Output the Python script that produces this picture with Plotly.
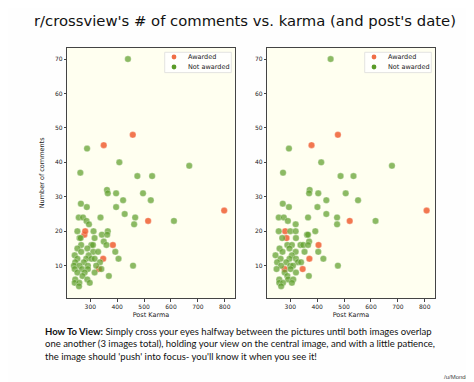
import plotly.graph_objects as go

# ---- data (karma, comments) ----
left_awarded_karma = [458, 350, 515, 798, 384, 278, 281, 332, 348]
left_awarded_comments = [48, 45, 23, 26, 16, 19, 20, 9, 12]

left_not_karma = [440, 288, 408, 668, 263, 475, 530, 362, 365, 396, 496, 422, 525, 265, 287, 396,
                  428, 257, 273, 338, 467, 286, 611, 295, 463, 252, 312, 365, 343, 363, 260, 264,
                  316, 350, 266, 304, 310, 360, 252, 289, 266, 311, 329, 393, 242, 294, 252, 285,
                  304, 316, 405, 244, 276, 336, 239, 260, 291, 322, 459, 242, 269, 291, 341, 252,
                  279, 316, 271, 369, 244, 289, 242, 259, 298, 258]
left_not_comments = [70, 44, 40, 39, 37, 36, 36, 32, 31, 31, 31, 29, 29, 28, 27, 27,
                     25, 24, 24, 24, 24, 23, 23, 22, 22, 20, 20, 20, 19, 19, 18, 18,
                     18, 17, 16, 16, 16, 16, 15, 15, 14, 14, 14, 14, 13, 13, 12, 12,
                     12, 12, 12, 11, 11, 11, 10, 10, 10, 10, 10, 9, 9, 9, 9, 8,
                     8, 8, 7, 7, 6, 6, 5, 5, 5, 4]

right_awarded_karma = [477, 379, 521, 807, 405, 371, 281, 286, 279, 346]
right_awarded_comments = [48, 45, 23, 26, 16, 12, 20, 18, 9, 9]

right_not_karma = [450, 295, 415, 678, 273, 487, 535, 372, 370, 404, 506, 434, 552, 272, 295, 401,
                   434, 257, 276, 366, 474, 291, 617, 320, 474, 257, 300, 320, 393, 362, 366, 270,
                   321, 370, 289, 306, 338, 348, 366, 260, 297, 271, 320, 353, 404, 245, 306, 264,
                   297, 321, 423, 251, 285, 328, 340, 266, 300, 310, 477, 249, 301, 279, 321, 289,
                   369, 259, 292, 311, 259, 273, 306, 266]
right_not_comments = [70, 44, 40, 39, 37, 36, 36, 32, 31, 31, 31, 29, 29, 28, 27, 27,
                      25, 24, 24, 24, 24, 23, 23, 22, 22, 20, 20, 20, 20, 19, 19, 18,
                      18, 17, 16, 16, 16, 16, 16, 15, 15, 14, 14, 14, 14, 13, 13, 12,
                      12, 12, 12, 11, 11, 11, 11, 10, 10, 10, 10, 9, 9, 8, 8, 7,
                      7, 6, 6, 6, 5, 5, 5, 4]

x_ticks = [300, 400, 500, 600, 700, 800]
y_ticks = [10, 20, 30, 40, 50, 60, 70]
legend_labels = ["Awarded", "Not awarded"]

title_text = "r/crossview's # of comments vs. karma (and post's date)"
howto_text = ("<b>How To View:</b> Simply cross your eyes halfway between the pictures until both images overlap<br>"
              "one another (3 images total), holding your view on the central image, and with a little patience,<br>"
              "the image should 'push' into focus- you'll know it when you see it!")
signature = "/u/Mondoke"

RED = "rgba(240,95,50,0.85)"
GREEN = "rgba(95,160,45,0.72)"
LEG_COLORS = ["rgb(240,110,70)", "rgb(90,155,40)"]
W, H = 474, 382

fig = go.Figure()

def add_panel(ak, ac, nk, nc, xa, ya):
    fig.add_trace(go.Scatter(x=ak, y=ac, mode="markers", name=legend_labels[0],
                             marker=dict(color=RED, size=6.5, line=dict(color="rgba(255,255,255,0.6)", width=0.5)),
                             xaxis=xa, yaxis=ya, showlegend=False))
    fig.add_trace(go.Scatter(x=nk, y=nc, mode="markers", name=legend_labels[1],
                             marker=dict(color=GREEN, size=6.5, line=dict(color="rgba(255,255,255,0.6)", width=0.5)),
                             xaxis=xa, yaxis=ya, showlegend=False))

add_panel(left_awarded_karma, left_awarded_comments, left_not_karma, left_not_comments, "x", "y")
add_panel(right_awarded_karma, right_awarded_comments, right_not_karma, right_not_comments, "x2", "y2")

ytop = 1 - 39.7 / H
ybot = 1 - 290 / H
axis_common = dict(showgrid=False, zeroline=False, showline=True, linecolor="#444", linewidth=1,
                   mirror=True, ticks="outside", ticklen=2.5, tickcolor="#444", tickwidth=0.8,
                   tickfont=dict(family="DejaVu Sans", size=6, color="#222"))

xr = [214.5, 837]
yr = [0.6, 73.3]
title_font = dict(family="DejaVu Sans", size=6.5, color="#222")

# manual legends (one per panel), positioned in pixels then converted to paper coords
shapes = []
annotations = []
for dx in (0, 200):
    x0, x1, y0, y1 = 156.7 + dx, 223.3 + dx, 44.3, 64.6
    shapes.append(dict(type="rect", xref="paper", yref="paper",
                       x0=x0 / W, x1=x1 / W, y0=1 - y1 / H, y1=1 - y0 / H,
                       fillcolor="rgba(255,255,255,0.85)", line=dict(color="#d8d8d8", width=0.7)))
    for i, (lab, col) in enumerate(zip(legend_labels, LEG_COLORS)):
        cy = 49.0 + i * 10.0
        cx = 166.0 + dx
        r = 2.4
        shapes.append(dict(type="circle", xref="paper", yref="paper",
                           x0=(cx - r) / W, x1=(cx + r) / W, y0=1 - (cy + r) / H, y1=1 - (cy - r) / H,
                           fillcolor=col, line=dict(width=0)))
        annotations.append(dict(text=lab, x=(177.5 + dx) / W, y=1 - cy / H, xref="paper", yref="paper",
                                xanchor="left", yanchor="middle", showarrow=False,
                                font=dict(family="DejaVu Sans", size=6.5, color="#222")))

annotations += [
    dict(text=title_text, x=0.5, y=1 - 2 / H, xref="paper", yref="paper",
         xanchor="center", yanchor="top", showarrow=False,
         font=dict(family="DejaVu Sans", size=14.8, color="#111")),
    dict(text=howto_text, x=35 / W, y=1 - 316 / H, xref="paper", yref="paper",
         xanchor="left", yanchor="top", align="left", showarrow=False,
         font=dict(family="Lato", size=9.5, color="#111")),
    dict(text=signature, x=470 / W, y=1 - 364 / H, xref="paper", yref="paper",
         xanchor="right", yanchor="top", showarrow=False,
         font=dict(family="Liberation Sans", size=6, color="#444")),
]

fig.update_layout(
    width=W, height=H,
    margin=dict(l=0, r=0, t=0, b=0),
    paper_bgcolor="#fefefe",
    plot_bgcolor="#fffff0",
    showlegend=False,
    xaxis=dict(domain=[59.3 / W, 226.7 / W], range=xr, tickvals=x_ticks, anchor="y",
               title=dict(text="Post Karma", font=title_font, standoff=3), **axis_common),
    yaxis=dict(domain=[ybot, ytop], range=yr, tickvals=y_ticks, anchor="x",
               title=dict(text="Number of comments", font=title_font, standoff=9), **axis_common),
    xaxis2=dict(domain=[259.3 / W, 426.7 / W], range=xr, tickvals=x_ticks, anchor="y2",
                title=dict(text="Post Karma", font=title_font, standoff=3), **axis_common),
    yaxis2=dict(domain=[ybot, ytop], range=yr, tickvals=y_ticks, anchor="x2", **axis_common),
    shapes=shapes,
    annotations=annotations,
)

fig.write_html("out.html")
